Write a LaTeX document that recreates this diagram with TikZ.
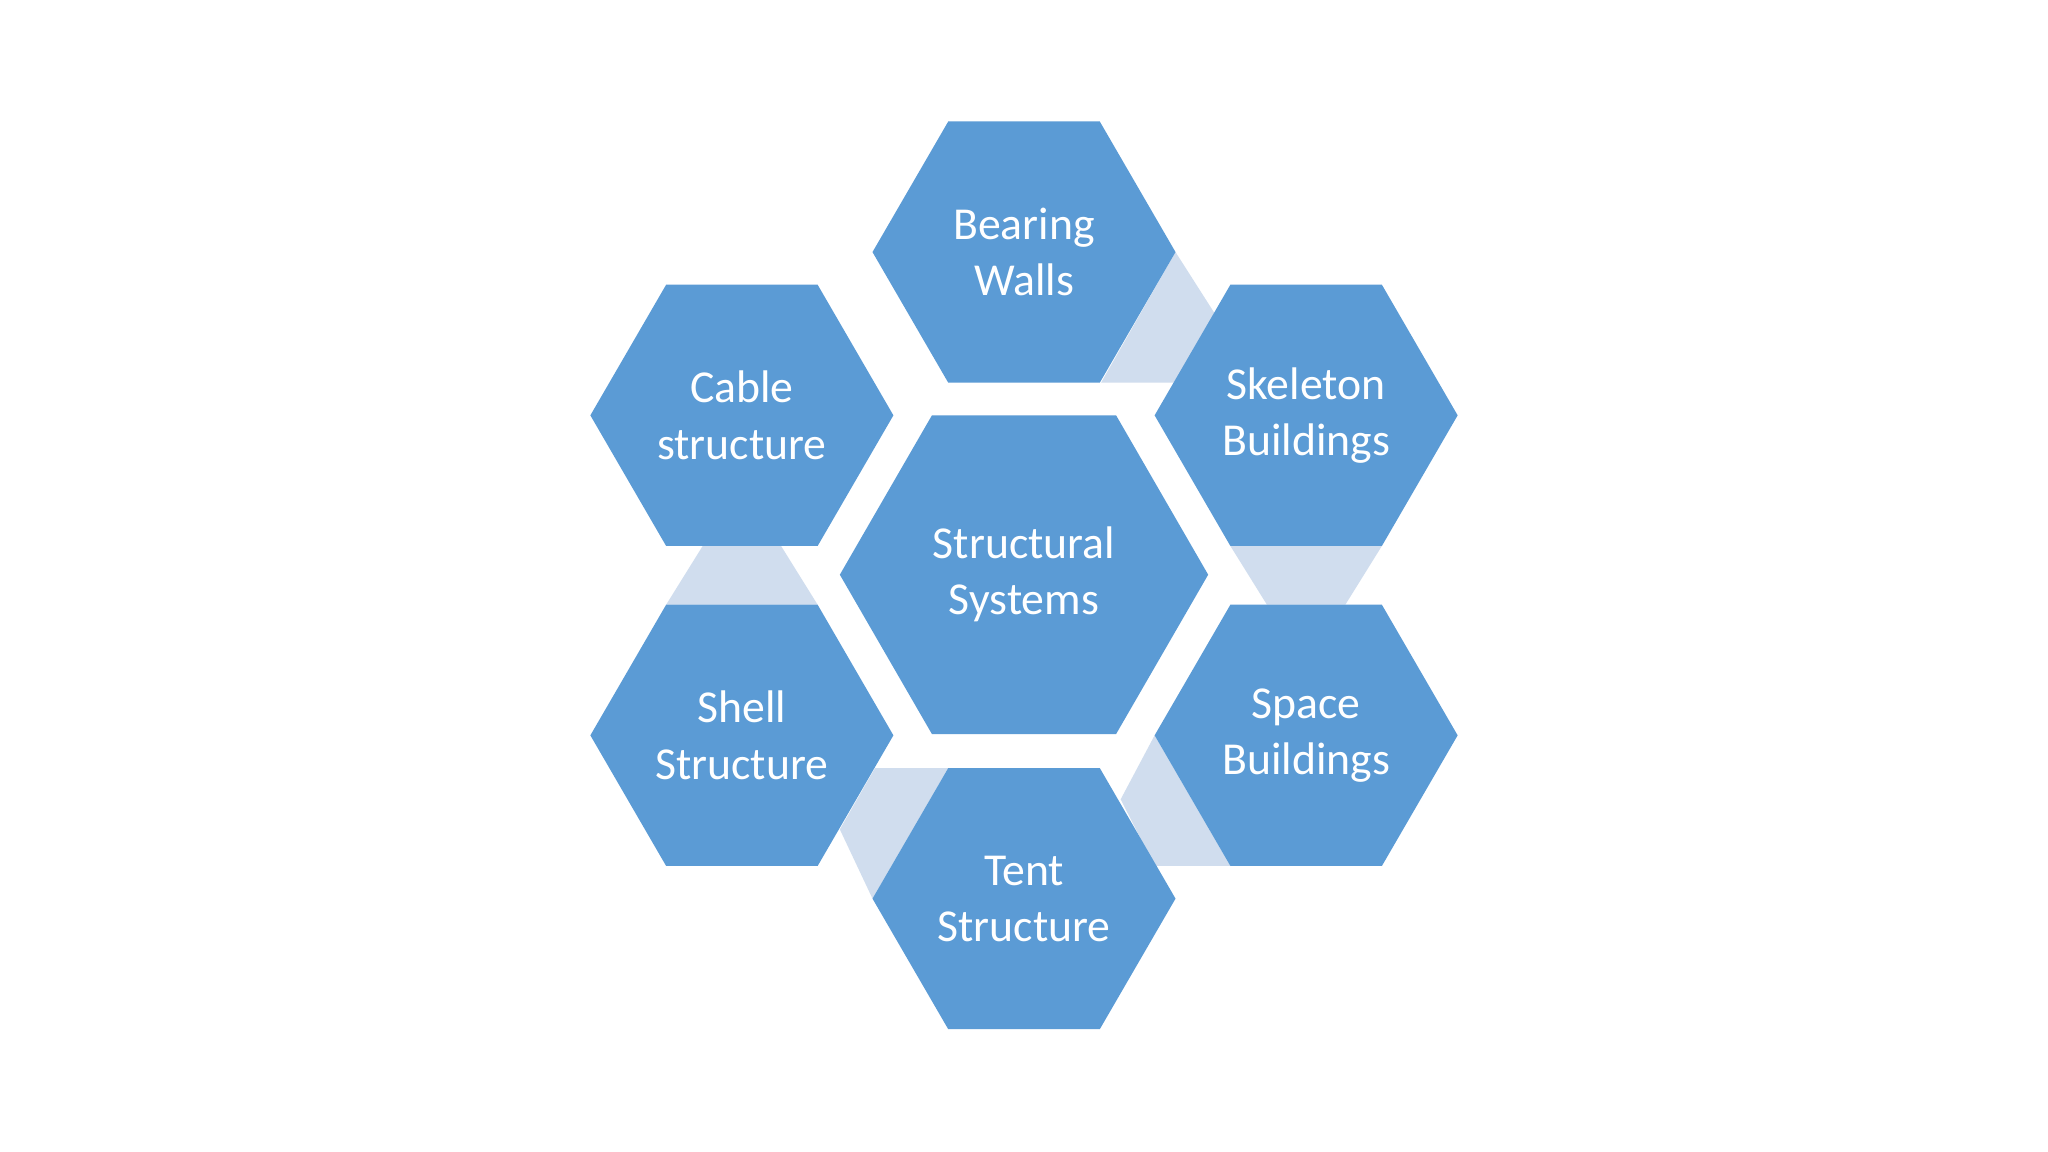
\documentclass[tikz,border=0pt]{standalone}
\usepackage{fontspec}
\setmainfont{Carlito}
\definecolor{hexblue}{HTML}{5B9BD5}
\definecolor{lightc}{HTML}{D0DDEE}
\begin{document}
\begin{tikzpicture}[x=1pt,y=-1pt,
  lbl/.style={text=white,align=center,font=\fontsize{35}{43}\selectfont},
  conn/.style={fill=lightc,draw=none}]
\useasboundingbox[fill=white] (0,0) rectangle (1568,882);
% connectors
\fill[lightc] (900,193)--(930,240)--(900,293)--(843,293)--cycle;
\fill[lightc] (942,418)--(1058,418)--(1030,463)--(970,463)--cycle;
\fill[lightc] (884,563)--(858,612)--(884,663)--(942,663)--cycle;
\fill[lightc] (726,588)--(670,588)--(643,635)--(668,688)--cycle;
\fill[lightc] (510,463)--(538,418)--(598,418)--(626,463)--cycle;
% hexagons
\newcommand{\hexa}[4]{%
 \fill[hexblue] (#1-#3,#2)--(#1-#3/2,#2-#4)--(#1+#3/2,#2-#4)--(#1+#3,#2)--(#1+#3/2,#2+#4)--(#1-#3/2,#2+#4)--cycle;}
\hexa{784}{440}{141}{122}
\hexa{784}{193}{116}{100}
\hexa{568}{318}{116}{100}
\hexa{1000}{318}{116}{100}
\hexa{568}{563}{116}{100}
\hexa{1000}{563}{116}{100}
\hexa{784}{688}{116}{100}
\node[lbl] (c) at (784,440) {Structural\\Systems};
\node[lbl] (bw) at (784,193) {Bearing\\Walls};
\node[lbl] (cs) at (568,318) {Cable\\structure};
\node[lbl] (sk) at (1000,318) {Skeleton\\Buildings};
\node[lbl] (sh) at (568,563) {Shell\\Structure};
\node[lbl] (sp) at (1000,563) {Space\\Buildings};
\node[lbl] (te) at (784,688) {Tent\\Structure};
\end{tikzpicture}
\end{document}
